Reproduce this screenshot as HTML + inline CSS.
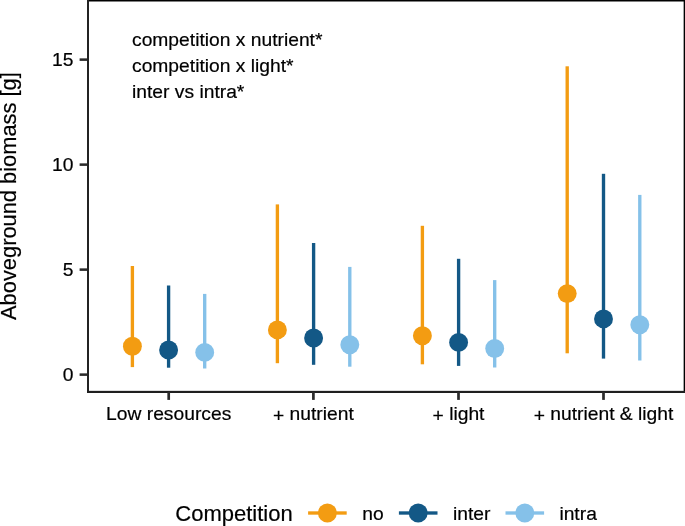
<!DOCTYPE html>
<html lang="en"><head><meta charset="utf-8"><title>Aboveground biomass</title>
<style>
html,body{margin:0;padding:0;background:#fff;}
body{width:685px;height:526px;overflow:hidden;}
svg{display:block;}
text{font-family:"Liberation Sans",sans-serif;fill:#000;stroke:#000;stroke-width:0.2px;}
.t{font-size:19.25px;}
.T{font-size:22px;}
</style></head><body>
<svg width="685" height="526" viewBox="0 0 685 526">
<rect x="0" y="0" width="685" height="526" fill="#fff"/>
<rect x="88" y="0" width="597" height="1.5" fill="#000"/>
<rect x="683.65" y="0" width="1.35" height="393" fill="#000"/>
<rect x="87" y="0" width="2" height="393" fill="#232323"/>
<rect x="87" y="390.85" width="598" height="2.15" fill="#1f1f1f"/>
<rect x="79.6" y="373.35" width="7.6" height="2.55" fill="#2b2b2b"/>
<text class="t" x="73.5" y="381.4" text-anchor="end">0</text>
<rect x="79.6" y="268.35" width="7.6" height="2.55" fill="#2b2b2b"/>
<text class="t" x="73.5" y="276.4" text-anchor="end">5</text>
<rect x="79.6" y="163.35" width="7.6" height="2.55" fill="#2b2b2b"/>
<text class="t" x="73.5" y="171.4" text-anchor="end">10</text>
<rect x="79.6" y="58.35" width="7.6" height="2.55" fill="#2b2b2b"/>
<text class="t" x="73.5" y="66.4" text-anchor="end">15</text>
<rect x="167.35" y="392" width="2.7" height="7.9" fill="#2b2b2b"/>
<text class="t" x="168.7" y="420" text-anchor="middle">Low resources</text>
<rect x="312.05" y="392" width="2.7" height="7.9" fill="#2b2b2b"/>
<text class="t" x="313.4" y="420" text-anchor="middle"><tspan dy="1.5">+</tspan><tspan dy="-1.5"> nutrient</tspan></text>
<rect x="457.15" y="392" width="2.7" height="7.9" fill="#2b2b2b"/>
<text class="t" x="458.5" y="420" text-anchor="middle"><tspan dy="1.5">+</tspan><tspan dy="-1.5"> light</tspan></text>
<rect x="602.15" y="392" width="2.7" height="7.9" fill="#2b2b2b"/>
<text class="t" x="603.5" y="420" text-anchor="middle"><tspan dy="1.5">+</tspan><tspan dy="-1.5"> nutrient &amp; light</tspan></text>
<rect x="130.72" y="266.0" width="3.35" height="101.1" fill="#F39C12"/><circle cx="132.4" cy="346.3" r="9.45" fill="#F39C12"/>
<rect x="166.92" y="285.5" width="3.35" height="82.2" fill="#135886"/><circle cx="168.6" cy="350.0" r="9.45" fill="#135886"/>
<rect x="203.02" y="293.9" width="3.35" height="74.6" fill="#85C1E9"/><circle cx="204.7" cy="352.40000000000003" r="9.45" fill="#85C1E9"/>
<rect x="275.72" y="204.4" width="3.35" height="158.8" fill="#F39C12"/><circle cx="277.4" cy="329.90000000000003" r="9.45" fill="#F39C12"/>
<rect x="311.93" y="243.0" width="3.35" height="121.8" fill="#135886"/><circle cx="313.6" cy="338.0" r="9.45" fill="#135886"/>
<rect x="348.12" y="266.9" width="3.35" height="99.8" fill="#85C1E9"/><circle cx="349.8" cy="344.8" r="9.45" fill="#85C1E9"/>
<rect x="420.72" y="225.8" width="3.35" height="138.5" fill="#F39C12"/><circle cx="422.4" cy="335.7" r="9.45" fill="#F39C12"/>
<rect x="456.93" y="258.8" width="3.35" height="107.1" fill="#135886"/><circle cx="458.6" cy="342.40000000000003" r="9.45" fill="#135886"/>
<rect x="493.02" y="280.1" width="3.35" height="87.4" fill="#85C1E9"/><circle cx="494.7" cy="348.5" r="9.45" fill="#85C1E9"/>
<rect x="565.53" y="66.3" width="3.35" height="287.0" fill="#F39C12"/><circle cx="567.2" cy="293.6" r="9.45" fill="#F39C12"/>
<rect x="601.83" y="173.8" width="3.35" height="184.8" fill="#135886"/><circle cx="603.5" cy="318.90000000000003" r="9.45" fill="#135886"/>
<rect x="638.12" y="194.9" width="3.35" height="165.6" fill="#85C1E9"/><circle cx="639.8" cy="324.8" r="9.45" fill="#85C1E9"/>
<text class="t" x="132" y="45.5">competition x nutrient*</text>
<text class="t" x="132" y="72.4">competition x light*</text>
<text class="t" x="132" y="98.1">inter vs intra*</text>
<text class="T" style="font-size:21.85px" transform="translate(16.4,196.1) rotate(-90)" text-anchor="middle">Aboveground biomass [g]</text>
<text class="T" x="175.3" y="521.2">Competition</text>
<rect x="308.1" y="511.32" width="38.6" height="3.35" fill="#F39C12"/><circle cx="327.4" cy="513" r="9.45" fill="#F39C12"/><text class="t" x="362.2" y="520">no</text>
<rect x="398.9" y="511.32" width="38.6" height="3.35" fill="#135886"/><circle cx="418.2" cy="513" r="9.45" fill="#135886"/><text class="t" x="453.0" y="520">inter</text>
<rect x="505.5" y="511.32" width="38.6" height="3.35" fill="#85C1E9"/><circle cx="524.8" cy="513" r="9.45" fill="#85C1E9"/><text class="t" x="559.4" y="520">intra</text>
</svg>
</body></html>
